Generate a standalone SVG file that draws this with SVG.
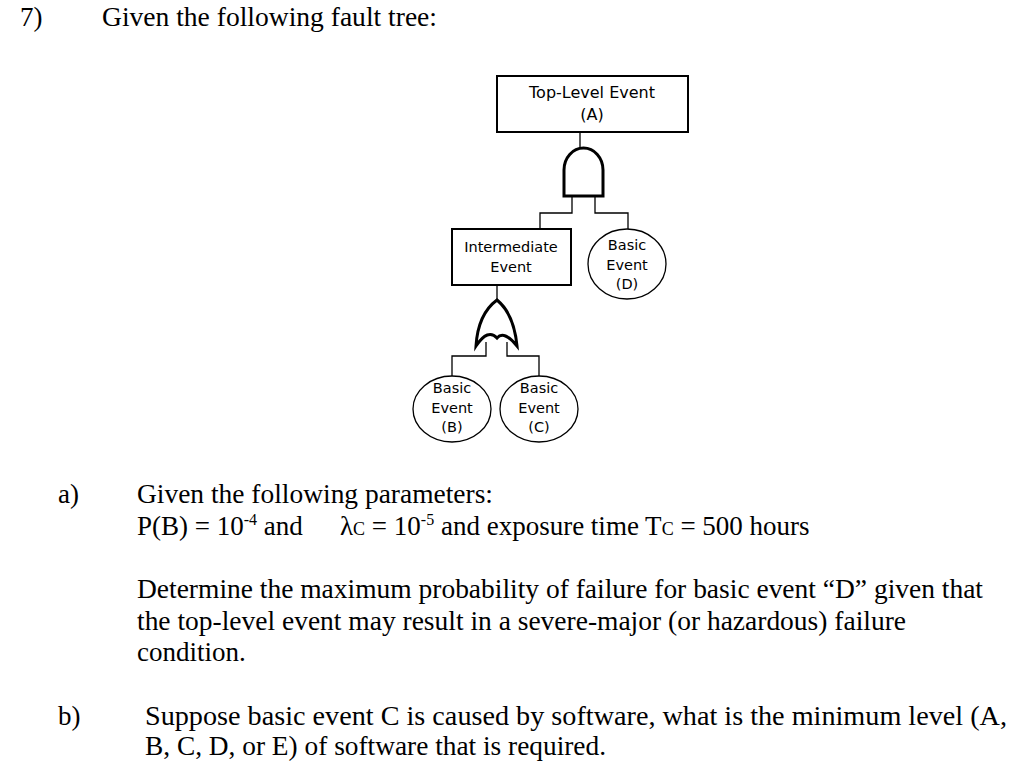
<svg xmlns="http://www.w3.org/2000/svg" width="1032" height="775" viewBox="0 0 1032 775">
<style>
.t{font-family:"Liberation Serif",serif;font-size:27px;fill:#000}
.d{font-family:"DejaVu Sans",sans-serif;font-size:16px;fill:#000;text-anchor:middle}
.s{font-family:"DejaVu Sans",sans-serif;font-size:14.5px;fill:#000;text-anchor:middle}
.n{fill:#fff;stroke:#000;stroke-width:2}
.e{fill:#fff;stroke:#000;stroke-width:1.3}
.g{fill:#fff;stroke:#000;stroke-width:3}
.c{fill:none;stroke:#000;stroke-width:1.3}
</style>
<rect width="1032" height="775" fill="#fff"/>
<text class="t" x="20" y="26">7)</text>
<text class="t" x="102" y="26" textLength="335" lengthAdjust="spacingAndGlyphs">Given the following fault tree:</text>
<g id="connectors">
<path class="c" d="M580,132V148 M572,197V213H540V229 M595,197V213H628V229 M497,285V300 M486,342V356H452V377 M507,342V356H539V377"/>
</g>
<g id="A"><rect class="n" x="497" y="76" width="191" height="56"/><text class="d" x="592" y="98">Top-Level Event</text><text class="d" x="592" y="120">(A)</text></g>
<g id="and"><path class="g" d="M564,196V170A19.5,22 0 0 1 603,170V196Z"/></g>
<g id="I"><rect class="n" x="452" y="229" width="119" height="56"/><text class="s" x="511" y="252">Intermediate</text><text class="s" x="511" y="272">Event</text></g>
<g id="D"><ellipse class="e" cx="627" cy="264" rx="39" ry="35"/><text class="s" x="627" y="250">Basic</text><text class="s" x="627" y="270">Event</text><text class="s" x="627" y="289">(D)</text></g>
<g id="or"><path class="g" d="M497,300Q514,314 517,346Q504,330 497,338Q488,328 476,346Q478,314 497,300Z"/></g>
<g id="B"><ellipse class="e" cx="452" cy="409" rx="39" ry="33"/><text class="s" x="452" y="393">Basic</text><text class="s" x="452" y="413">Event</text><text class="s" x="452" y="432">(B)</text></g>
<g id="C"><ellipse class="e" cx="539" cy="409" rx="39" ry="33"/><text class="s" x="539" y="393">Basic</text><text class="s" x="539" y="413">Event</text><text class="s" x="539" y="432">(C)</text></g>
<text class="t" x="58" y="503">a)</text>
<text class="t" x="137" y="503" textLength="356" lengthAdjust="spacingAndGlyphs">Given the following parameters:</text>
<text class="t" x="137" y="535">P(B) = 10<tspan dy="-10" font-size="16">-4</tspan><tspan dy="10"> and</tspan></text>
<text class="t" x="340" y="535">λ<tspan font-size="18">C</tspan> = 10<tspan dy="-10" font-size="16">-5</tspan><tspan dy="10"> and exposure time T</tspan><tspan font-size="18">C</tspan> = 500 hours</text>
<text class="t" x="137" y="598" textLength="846" lengthAdjust="spacingAndGlyphs">Determine the maximum probability of failure for basic event “D” given that</text>
<text class="t" x="137" y="630" textLength="769" lengthAdjust="spacingAndGlyphs">the top-level event may result in a severe-major (or hazardous) failure</text>
<text class="t" x="137" y="661">condition.</text>
<text class="t" x="58" y="725">b)</text>
<text class="t" x="145" y="725" textLength="862" lengthAdjust="spacingAndGlyphs">Suppose basic event C is caused by software, what is the minimum level (A,</text>
<text class="t" x="145" y="755" textLength="461" lengthAdjust="spacingAndGlyphs">B, C, D, or E) of software that is required.</text>
</svg>
